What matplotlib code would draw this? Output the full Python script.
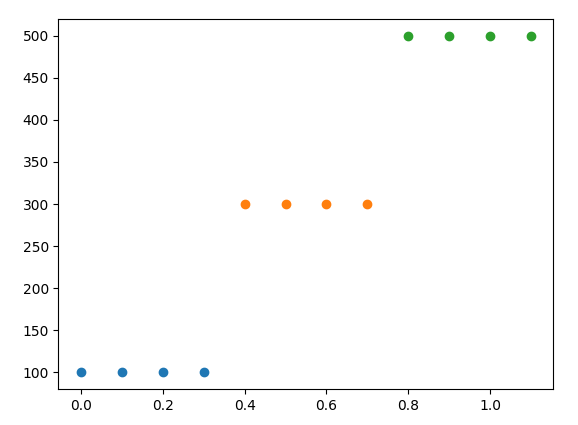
import matplotlib
matplotlib.use("Agg")
import matplotlib.pyplot as plt

x_a = [0.0, 0.1, 0.2, 0.3]
y_a = [100, 100, 100, 100]
x_b = [0.4, 0.5, 0.6, 0.7]
y_b = [300, 300, 300, 300]
x_c = [0.8, 0.9, 1.0, 1.1]
y_c = [500, 500, 500, 500]

fig, ax = plt.subplots(figsize=(5.78, 4.25), dpi=100)
fig.subplots_adjust(left=0.1012, right=0.9576, top=0.955, bottom=0.085)

ax.scatter(x_a, y_a)
ax.scatter(x_b, y_b)
ax.scatter(x_c, y_c)

fig.savefig("out.png")
